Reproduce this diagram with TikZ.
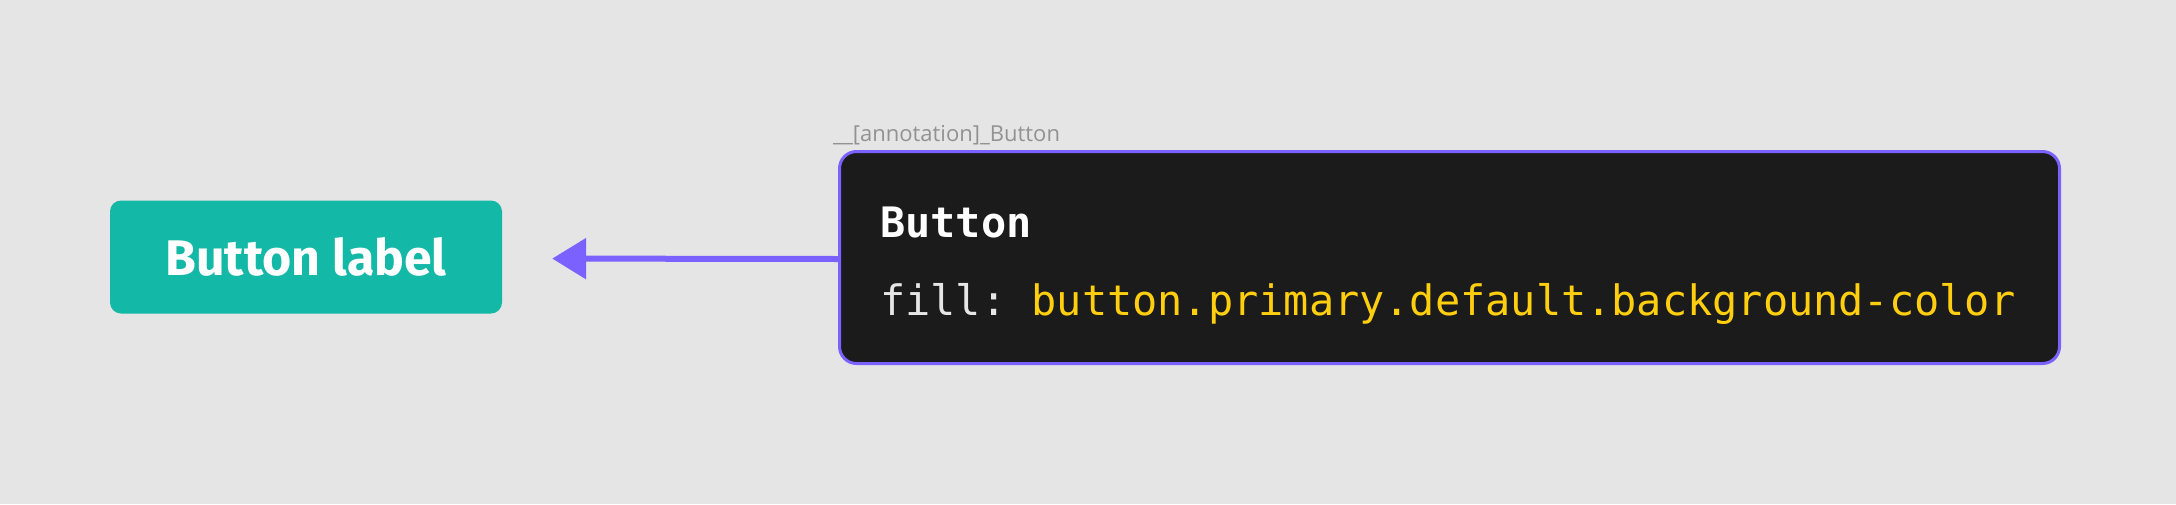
\documentclass[tikz,border=0pt]{standalone}
\usepackage{fontspec}
\setmainfont{Fira Sans}
\newfontfamily\monofont{DejaVu Sans Mono}
\newfontfamily\labelfont{Open Sans}
\usetikzlibrary{arrows.meta}
\definecolor{bgc}{HTML}{E5E5E5}
\definecolor{teal}{HTML}{14B8A6}
\definecolor{boxc}{HTML}{1B1B1B}
\definecolor{purp}{HTML}{7B61FF}
\definecolor{yel}{HTML}{FFCF0F}
\definecolor{lightt}{HTML}{E6E6E6}
\definecolor{greyt}{HTML}{929292}
\tikzset{
  btnbox/.style={fill=teal, rounded corners=11pt, minimum width=392pt, minimum height=113pt,
    inner sep=0pt, text=white, font=\fontsize{50}{60}\selectfont\bfseries},
  annobox/.style={fill=boxc, draw=purp, line width=3pt, rounded corners=17pt,
    minimum width=1220pt, minimum height=212pt, inner sep=0pt},
  codetext/.style={inner sep=0pt, anchor=base west, font=\fontsize{41.9}{50}\monofont},
  tagtext/.style={inner sep=0pt, anchor=base west, text=greyt, font=\fontsize{22}{26}\labelfont},
  conn/.style={draw=purp, line width=6pt, line cap=round, -{Triangle[length=34pt,width=40pt]}},
}
\begin{document}
\begin{tikzpicture}[x=1pt,y=-1pt]
  \fill[bgc] (0,0) rectangle (2176,504);
  \useasboundingbox (0,0) rectangle (2176,504);
  \node[btnbox] (btn) at (306,257) {Button label};
  \node[annobox] (anno) at (1449.5,257.5) {};
  \node[tagtext] (tag) at (833,141) {\_\_[annotation]\_Button};
  \node[codetext, text=white, font=\fontsize{41.9}{50}\monofont\bfseries] (title) at (880,237) {Button};
  \node[codetext] (fillline) at (880,315) {\textcolor{lightt}{fill:}\hspace{0.602em}\textcolor{yel}{button.primary.default.background-color}};
  \draw[conn, shorten >=50pt] ([yshift=-1.5pt]anno.west) -- ([yshift=-1.5pt]btn.east);
\end{tikzpicture}
\end{document}
